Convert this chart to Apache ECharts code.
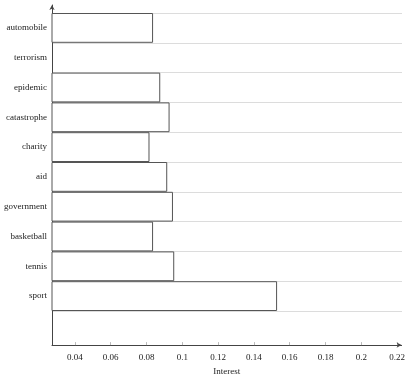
<!DOCTYPE html>
<html><head><meta charset="utf-8">
<script src="https://cdn.jsdelivr.net/npm/echarts@6/dist/echarts.min.js"></script>
<style>html,body{margin:0;padding:0;background:#fff}#c{width:408px;height:381px}</style>
</head><body><div id="c"></div>
<script>
const categories = ['automobile','terrorism','epidemic','catastrophe','charity','aid','government','basketball','tennis','sport'];
const interest = [0.0836, 0, 0.0876, 0.0928, 0.0816, 0.0915, 0.0947, 0.0836, 0.0954, 0.1528];
const xTicks = [0.04,0.06,0.08,0.1,0.12,0.14,0.16,0.18,0.2,0.22];
const xMin = 0.0272, xMax = 0.2225;
const FONT = 'Liberation Serif';
const chart = echarts.init(document.getElementById('c'), null, {renderer:'canvas'});
chart.setOption({
  animation:false,
  textStyle:{fontFamily:FONT},
  grid:[
    {left:52, right:6, top:5, bottom:30},
    {left:52, right:6, top:13, bottom:70}
  ],
  xAxis:[
    {gridIndex:0, type:'value', min:xMin, max:xMax,
     name:'Interest', nameLocation:'middle', nameGap:19,
     nameTextStyle:{fontFamily:FONT, fontSize:9, color:'#222'},
     axisLine:{show:true, lineStyle:{color:'#444', width:1}, symbol:['none','arrow'], symbolSize:[4,5]},
     axisTick:{show:true, inside:true, length:3, lineStyle:{color:'#bbb'}, customValues:xTicks},
     axisLabel:{fontFamily:FONT, fontSize:9, color:'#222', margin:8, customValues:xTicks,
       formatter:v=>String(+v.toFixed(2))},
     splitLine:{show:false}},
    {gridIndex:1, type:'value', min:xMin, max:xMax, show:false, splitLine:{show:false}}
  ],
  yAxis:[
    {gridIndex:0, type:'value', min:0, max:1,
     axisLine:{show:true, lineStyle:{color:'#444', width:1}, symbol:['none','arrow'], symbolSize:[4,5]},
     axisTick:{show:false}, axisLabel:{show:false}, splitLine:{show:false}},
    {gridIndex:1, type:'category', data:categories, inverse:true,
     axisLine:{show:false}, axisTick:{show:false},
     axisLabel:{fontFamily:FONT, fontSize:9, color:'#222', margin:5},
     splitLine:{show:true, lineStyle:{color:'#dcdcdc', width:1}}}
  ],
  series:[{
    type:'bar', xAxisIndex:1, yAxisIndex:1, data:interest, barWidth:'100%', barGap:'0%',
    itemStyle:{color:'#ffffff', borderColor:'#555', borderWidth:1}
  }]
});
</script></body></html>
